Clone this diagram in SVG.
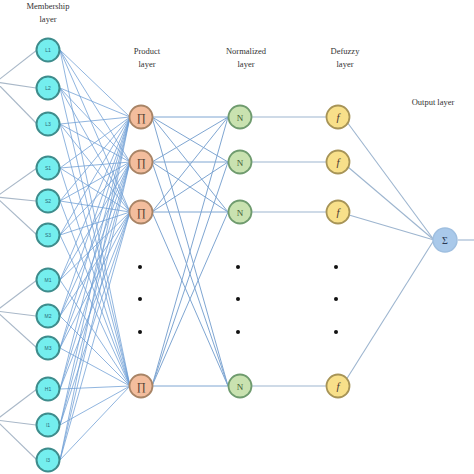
<svg xmlns="http://www.w3.org/2000/svg" width="474" height="474" viewBox="0 0 474 474">
<defs>
<style>
.lbl{font-family:"Liberation Serif","DejaVu Serif",serif;font-size:8.5px;fill:#333;text-anchor:middle}
.mf circle{fill:#74eeee;stroke:#3e8c8c;stroke-width:2}
.mf text{font-family:"Liberation Sans",sans-serif;font-size:5px;fill:#2a6a78;text-anchor:middle}
.prod circle{fill:#f3bd9d;stroke:#a88466;stroke-width:1.8}
.norm circle{fill:#c9e2b0;stroke:#6f9b6e;stroke-width:1.8}
.def circle{fill:#f8e08a;stroke:#a79457;stroke-width:1.8}
.out circle{fill:#a9c9ea;stroke:#9fbfe0;stroke-width:1.5}
.sym{font-family:"Liberation Serif","DejaVu Serif",serif;font-size:11px;text-anchor:middle;fill:#4a3a30}
.in line{stroke:#a9b8c8;stroke-width:1.1}
.m2p line{stroke:#6f9fd6;stroke-width:0.9;opacity:0.85}
.p2n line{stroke:#7fa6d2;stroke-width:1}
.n2f line,.f2o line{stroke:#9db5cf;stroke-width:1.1}
.dot{fill:#111}
</style>
</defs>
<rect width="474" height="474" fill="#fff"/>
<g id="labels">
<text class="lbl" x="48" y="9">Membership</text>
<text class="lbl" x="48" y="22">layer</text>
<text class="lbl" x="147" y="54">Product</text>
<text class="lbl" x="147" y="67">layer</text>
<text class="lbl" x="246" y="54">Normalized</text>
<text class="lbl" x="246" y="67">layer</text>
<text class="lbl" x="345" y="54">Defuzzy</text>
<text class="lbl" x="345" y="67">layer</text>
<text class="lbl" x="433" y="105">Output layer</text>
</g>
<g id="connectors">
<g class="in">
<line x1="-4" y1="82" x2="37" y2="50"/><line x1="-4" y1="82" x2="36" y2="88"/><line x1="-4" y1="82" x2="37" y2="124"/>
<line x1="-4" y1="197" x2="37" y2="168"/><line x1="-4" y1="197" x2="36" y2="201"/><line x1="-4" y1="197" x2="37" y2="235"/>
<line x1="-4" y1="311" x2="37" y2="280"/><line x1="-4" y1="311" x2="36" y2="316"/><line x1="-4" y1="311" x2="37" y2="348"/>
<line x1="-4" y1="420" x2="37" y2="389"/><line x1="-4" y1="420" x2="36" y2="425"/><line x1="-4" y1="420" x2="37" y2="460"/>
</g>
<g class="m2p">
<line x1="60" y1="50" x2="130" y2="117"/><line x1="60" y1="50" x2="130" y2="162"/><line x1="60" y1="50" x2="130" y2="212"/><line x1="60" y1="50" x2="130" y2="386"/>
<line x1="60" y1="88" x2="130" y2="117"/><line x1="60" y1="88" x2="130" y2="162"/><line x1="60" y1="88" x2="130" y2="212"/><line x1="60" y1="88" x2="130" y2="386"/>
<line x1="60" y1="124" x2="130" y2="117"/><line x1="60" y1="124" x2="130" y2="162"/><line x1="60" y1="124" x2="130" y2="212"/><line x1="60" y1="124" x2="130" y2="386"/>
<line x1="60" y1="168" x2="130" y2="117"/><line x1="60" y1="168" x2="130" y2="162"/><line x1="60" y1="168" x2="130" y2="212"/><line x1="60" y1="168" x2="130" y2="386"/>
<line x1="60" y1="201" x2="130" y2="117"/><line x1="60" y1="201" x2="130" y2="162"/><line x1="60" y1="201" x2="130" y2="212"/><line x1="60" y1="201" x2="130" y2="386"/>
<line x1="60" y1="235" x2="130" y2="117"/><line x1="60" y1="235" x2="130" y2="162"/><line x1="60" y1="235" x2="130" y2="212"/><line x1="60" y1="235" x2="130" y2="386"/>
<line x1="60" y1="280" x2="130" y2="117"/><line x1="60" y1="280" x2="130" y2="162"/><line x1="60" y1="280" x2="130" y2="212"/><line x1="60" y1="280" x2="130" y2="386"/>
<line x1="60" y1="316" x2="130" y2="117"/><line x1="60" y1="316" x2="130" y2="162"/><line x1="60" y1="316" x2="130" y2="212"/><line x1="60" y1="316" x2="130" y2="386"/>
<line x1="60" y1="348" x2="130" y2="117"/><line x1="60" y1="348" x2="130" y2="162"/><line x1="60" y1="348" x2="130" y2="212"/><line x1="60" y1="348" x2="130" y2="386"/>
<line x1="60" y1="389" x2="130" y2="117"/><line x1="60" y1="389" x2="130" y2="162"/><line x1="60" y1="389" x2="130" y2="212"/><line x1="60" y1="389" x2="130" y2="386"/>
<line x1="60" y1="425" x2="130" y2="117"/><line x1="60" y1="425" x2="130" y2="162"/><line x1="60" y1="425" x2="130" y2="212"/><line x1="60" y1="425" x2="130" y2="386"/>
<line x1="60" y1="460" x2="130" y2="117"/><line x1="60" y1="460" x2="130" y2="162"/><line x1="60" y1="460" x2="130" y2="212"/><line x1="60" y1="460" x2="130" y2="386"/>
</g>
<g class="p2n">
<line x1="152" y1="117" x2="228" y2="117"/><line x1="152" y1="117" x2="228" y2="162"/><line x1="152" y1="117" x2="228" y2="212"/><line x1="152" y1="117" x2="228" y2="386"/>
<line x1="152" y1="162" x2="228" y2="117"/><line x1="152" y1="162" x2="228" y2="162"/><line x1="152" y1="162" x2="228" y2="212"/><line x1="152" y1="162" x2="228" y2="386"/>
<line x1="152" y1="212" x2="228" y2="117"/><line x1="152" y1="212" x2="228" y2="162"/><line x1="152" y1="212" x2="228" y2="212"/><line x1="152" y1="212" x2="228" y2="386"/>
<line x1="152" y1="386" x2="228" y2="117"/><line x1="152" y1="386" x2="228" y2="162"/><line x1="152" y1="386" x2="228" y2="212"/><line x1="152" y1="386" x2="228" y2="386"/>
</g>
<g class="n2f">
<line x1="252" y1="117" x2="326" y2="117"/><line x1="252" y1="162" x2="326" y2="162"/><line x1="252" y1="212" x2="326" y2="212"/><line x1="252" y1="386" x2="326" y2="386"/>
</g>
<g class="f2o">
<line x1="347" y1="122" x2="434" y2="240"/><line x1="348" y1="167" x2="434" y2="240"/><line x1="349" y1="215" x2="434" y2="240"/><line x1="346" y1="380" x2="434" y2="240"/>
<line x1="458" y1="240" x2="474" y2="240"/>
</g>
</g>
<g id="membership" class="mf">
<g id="m-L1"><circle cx="48" cy="50" r="11.5"/><text x="48" y="52">L1</text></g>
<g id="m-L2"><circle cx="48" cy="88" r="11.5"/><text x="48" y="90">L2</text></g>
<g id="m-L3"><circle cx="48" cy="124" r="11.5"/><text x="48" y="126">L3</text></g>
<g id="m-S1"><circle cx="48" cy="168" r="11.5"/><text x="48" y="170">S1</text></g>
<g id="m-S2"><circle cx="48" cy="201" r="11.5"/><text x="48" y="203">S2</text></g>
<g id="m-S3"><circle cx="48" cy="235" r="11.5"/><text x="48" y="237">S3</text></g>
<g id="m-M1"><circle cx="48" cy="280" r="11.5"/><text x="48" y="282">M1</text></g>
<g id="m-M2"><circle cx="48" cy="316" r="11.5"/><text x="48" y="318">M2</text></g>
<g id="m-M3"><circle cx="48" cy="348" r="11.5"/><text x="48" y="350">M3</text></g>
<g id="m-H1"><circle cx="48" cy="389" r="11.5"/><text x="48" y="391">H1</text></g>
<g id="m-I1"><circle cx="48" cy="425" r="11.5"/><text x="48" y="427">I1</text></g>
<g id="m-I3"><circle cx="48" cy="460" r="11.5"/><text x="48" y="462">I3</text></g>
</g>
<g id="product" class="prod">
<g id="p1"><circle cx="141" cy="117" r="11.5"/><text class="sym" x="141" y="121">∏</text></g>
<g id="p2"><circle cx="141" cy="162" r="11.5"/><text class="sym" x="141" y="166">∏</text></g>
<g id="p3"><circle cx="141" cy="212" r="11.5"/><text class="sym" x="141" y="216">∏</text></g>
<g id="p4"><circle cx="141" cy="386" r="11.5"/><text class="sym" x="141" y="390">∏</text></g>
</g>
<g id="normalized" class="norm">
<g id="n1"><circle cx="240" cy="117" r="11.5"/><text class="sym" x="240" y="120.5" style="font-size:9px;fill:#3d5a30">N</text></g>
<g id="n2"><circle cx="240" cy="162" r="11.5"/><text class="sym" x="240" y="165.5" style="font-size:9px;fill:#3d5a30">N</text></g>
<g id="n3"><circle cx="240" cy="212" r="11.5"/><text class="sym" x="240" y="215.5" style="font-size:9px;fill:#3d5a30">N</text></g>
<g id="n4"><circle cx="240" cy="386" r="11.5"/><text class="sym" x="240" y="389.5" style="font-size:9px;fill:#3d5a30">N</text></g>
</g>
<g id="defuzzy" class="def">
<g id="f1"><circle cx="338" cy="117" r="11.5"/><text class="sym" x="338" y="121" font-style="italic">f</text></g>
<g id="f2"><circle cx="338" cy="162" r="11.5"/><text class="sym" x="338" y="166" font-style="italic">f</text></g>
<g id="f3"><circle cx="338" cy="212" r="11.5"/><text class="sym" x="338" y="216" font-style="italic">f</text></g>
<g id="f4"><circle cx="338" cy="386" r="11.5"/><text class="sym" x="338" y="390" font-style="italic">f</text></g>
</g>
<g id="output" class="out">
<circle cx="445" cy="240" r="12"/><text class="sym" x="445" y="244" style="font-size:10px;fill:#2a3a55">Σ</text>
</g>
<g id="ellipsis">
<circle class="dot" cx="140" cy="267" r="2"/><circle class="dot" cx="140" cy="299" r="2"/><circle class="dot" cx="140" cy="332" r="2"/>
<circle class="dot" cx="238" cy="267" r="2"/><circle class="dot" cx="238" cy="299" r="2"/><circle class="dot" cx="238" cy="332" r="2"/>
<circle class="dot" cx="336" cy="267" r="2"/><circle class="dot" cx="336" cy="299" r="2"/><circle class="dot" cx="336" cy="332" r="2"/>
</g>
</svg>
